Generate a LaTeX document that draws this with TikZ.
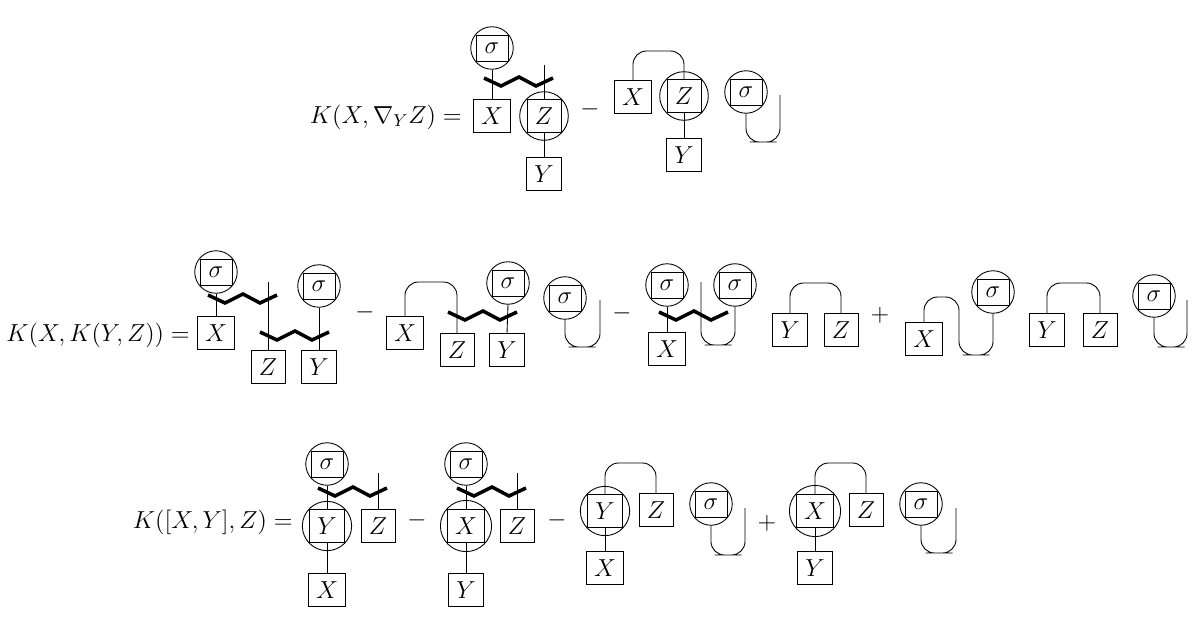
\RequirePackage{fix-cm}
\documentclass[tikz,border=0pt]{standalone}
\usetikzlibrary{fit}

\tikzset{
  every node/.style={font=\fontsize{14}{17}\selectfont},
  lbl/.style={draw, line width=0.5pt, minimum width=0.68cm, minimum height=0.66cm, inner xsep=4.5pt, inner ysep=0pt},
  sbox/.style={draw, line width=0.5pt, minimum width=0.64cm, minimum height=0.52cm, inner xsep=4pt, inner ysep=0pt},
  ring/.style={draw, circle, line width=0.5pt, inner sep=0pt},
  wire/.style={line width=0.5pt, rounded corners=0.27cm},
  zz/.style={line width=2pt},
  op/.style={inner sep=0pt}
}

% sigma box with its circle: name, position
\newcommand{\sig}[2]{\node[sbox] (#1) at (#2) {$\sigma$}; \node[ring, fit=(#1)] (#1c) {};}
% thick zigzag from its left end
\newcommand{\wig}[1]{\draw[zz] (#1) -- ++(17,8) -- ++(18,-9) -- ++(17,9) -- ++(17,-8);}

\begin{document}
\begin{tikzpicture}[x=0.02cm, y=-0.02cm]
\useasboundingbox (0,0) rectangle (1200,626);

% first line
\node[op, anchor=base east] (lhsa) at (462,123) {$K(X,\nabla_Y Z) =$};
\sig{s1}{492,48}
\node[lbl] (x1) at (492,116) {$X$};
\node[lbl] (z1) at (544,116) {$Z$};
\node[ring, fit=(z1)] (z1c) {};
\node[lbl] (y1) at (544,174) {$Y$};
\coordinate (z1t) at (544,65);
\draw[wire] (s1c.south) -- (x1.north);
\draw[wire] (z1t) -- (z1.north);
\draw[wire] (z1.south) -- (y1.north);
\wig{484,78}
\node[op] (m1) at (590,109) {$-$};
\node[lbl] (x2) at (633,97) {$X$};
\node[lbl] (z2) at (684,96) {$Z$};
\node[ring, fit=(z2)] (z2c) {};
\node[lbl] (y2) at (684,155) {$Y$};
\coordinate (a1) at (658,51);
\draw[wire] (x2.north) |- (a1) -| (z2.north);
\draw[wire] (z2.south) -- (y2.north);
\sig{s2}{746,92}
\coordinate (u1b) at (763,142);
\coordinate (u1) at (780,95);
\draw[wire] (s2c.south) |- (u1b) -| (u1);

% second line
\node[op, anchor=base east] (lhsb) at (190,341) {$K(X,K(Y,Z)) =$};
\sig{s3}{216,272}
\node[lbl] (x3) at (216,333) {$X$};
\draw[wire] (s3c.south) -- (x3.north);
\node[lbl] (z3) at (268,367) {$Z$};
\coordinate (z3t) at (268,282);
\draw[wire] (z3t) -- (z3.north);
\sig{s4}{319,286}
\node[lbl] (y3) at (319,367) {$Y$};
\draw[wire] (s4c.south) -- (y3.north);
\wig{208,295}
\wig{260,332}
\node[op] (m2) at (365,312) {$-$};
\node[lbl] (x5) at (405,333) {$X$};
\node[lbl] (z5) at (457,350) {$Z$};
\node[lbl] (y5) at (507,350) {$Y$};
\coordinate (a2) at (431,282);
\draw[wire] (x5.north) |- (a2) -| (z5.north);
\sig{s5}{508,283}
\draw[wire] (s5c.south) -- (y5.north);
\wig{448,312}
\sig{s6}{565,298}
\coordinate (u2b) at (582,347);
\coordinate (u2) at (600,300);
\draw[wire] (s6c.south) |- (u2b) -| (u2);
\node[op] (m3) at (622,313) {$-$};
\sig{s7}{667,285}
\node[lbl] (x7) at (667,349) {$X$};
\draw[wire] (s7c.south) -- (x7.north);
\sig{s8}{735,285}
\coordinate (u3t) at (701,282);
\coordinate (u3b) at (718,345);
\draw[wire] (u3t) |- (u3b) -| (s8c.south);
\wig{659,312}
\node[lbl] (y9) at (790,330) {$Y$};
\node[lbl] (z9) at (841,330) {$Z$};
\coordinate (a3) at (816,283);
\draw[wire] (y9.north) |- (a3) -| (z9.north);
\node[op] (p1) at (880,315) {$+$};
\node[lbl] (x10) at (924,339) {$X$};
\sig{s10}{993,292}
\coordinate (sn1) at (959,297);
\coordinate (sn2) at (976,355);
\draw[wire] (x10.north) |- (sn1) |- (sn2) -| (s10c.south);
\node[lbl] (y11) at (1047,330) {$Y$};
\node[lbl] (z11) at (1100,330) {$Z$};
\coordinate (a4) at (1073,283);
\draw[wire] (y11.north) |- (a4) -| (z11.north);
\sig{s12}{1154,296}
\coordinate (u4b) at (1171,347);
\coordinate (u4) at (1187,300);
\draw[wire] (s12c.south) |- (u4b) -| (u4);

% third line
\node[op, anchor=base east] (lhsc) at (293,528) {$K([X,Y],Z) =$};
\sig{s13}{327,464}
\node[lbl] (y13) at (327,526) {$Y$};
\node[ring, fit=(y13)] (y13c) {};
\node[lbl] (x13) at (327,590) {$X$};
\node[lbl] (z13) at (378,526) {$Z$};
\coordinate (z13t) at (378,473);
\draw[wire] (s13c.south) -- (y13.north);
\draw[wire] (y13.south) -- (x13.north);
\draw[wire] (z13t) -- (z13.north);
\wig{318,488}
\node[op] (m4) at (417,520) {$-$};
\sig{s14}{466,464}
\node[lbl] (x14) at (466,526) {$X$};
\node[ring, fit=(x14)] (x14c) {};
\node[lbl] (y14) at (466,590) {$Y$};
\node[lbl] (z14) at (517,526) {$Z$};
\coordinate (z14t) at (517,473);
\draw[wire] (s14c.south) -- (x14.north);
\draw[wire] (x14.south) -- (y14.north);
\draw[wire] (z14t) -- (z14.north);
\wig{457,488}
\node[op] (m5) at (557,520) {$-$};
\node[lbl] (y15) at (605,511) {$Y$};
\node[ring, fit=(y15)] (y15c) {};
\node[lbl] (x15) at (605,568) {$X$};
\node[lbl] (z15) at (656,510) {$Z$};
\coordinate (a5) at (630,463);
\draw[wire] (y15.north) |- (a5) -| (z15.north);
\draw[wire] (y15.south) -- (x15.north);
\sig{s15}{711,504}
\coordinate (u5b) at (728,555);
\coordinate (u5) at (745,508);
\draw[wire] (s15c.south) |- (u5b) -| (u5);
\node[op] (p2) at (767,523) {$+$};
\node[lbl] (x16) at (815,511) {$X$};
\node[ring, fit=(x16)] (x16c) {};
\node[lbl] (y16) at (815,568) {$Y$};
\node[lbl] (z16) at (866,510) {$Z$};
\coordinate (a6) at (841,463);
\draw[wire] (x16.north) |- (a6) -| (z16.north);
\draw[wire] (x16.south) -- (y16.north);
\sig{s16}{921,504}
\coordinate (u6b) at (939,553);
\coordinate (u6) at (956,508);
\draw[wire] (s16c.south) |- (u6b) -| (u6);
\end{tikzpicture}
\end{document}
